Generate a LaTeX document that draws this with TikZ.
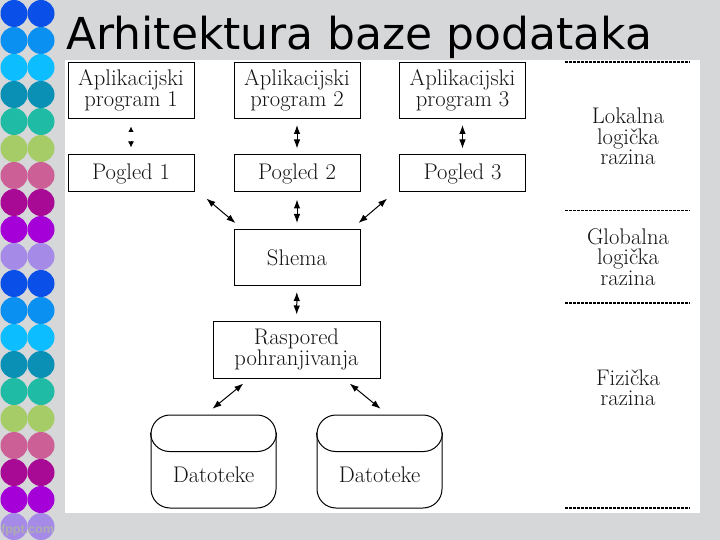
\documentclass[tikz,border=0pt]{standalone}
\usepackage{fontspec}
\newfontfamily\titlefont{DejaVu Sans}
\newfontfamily\markfont{Liberation Sans}
\usetikzlibrary{arrows.meta,calc}
\definecolor{pagebg}{HTML}{D6D7D9}
\definecolor{cA}{HTML}{0A50E8}
\definecolor{cB}{HTML}{0A90F0}
\definecolor{cC}{HTML}{0CBDFF}
\definecolor{cD}{HTML}{0A90B5}
\definecolor{cE}{HTML}{1FBBA5}
\definecolor{cF}{HTML}{A5CC66}
\definecolor{cG}{HTML}{CC5F95}
\definecolor{cH}{HTML}{A80A95}
\definecolor{cI}{HTML}{A500D8}
\definecolor{cJ}{HTML}{A58AE8}
\tikzset{
  x=1pt,y=-1pt,
  dot/.style={circle,inner sep=0pt,minimum size=27pt,fill=#1},
  boxnode/.style={draw=black,line width=1pt,inner sep=0pt,minimum width=#1,align=center,font=\fontsize{22.6}{21}\selectfont,text=black!92},
  drum/.style={draw=black,line width=1pt,inner sep=0pt,minimum width=125pt,minimum height=93pt,rounded corners=19pt},
  lab/.style={inner sep=0pt,align=center,font=\fontsize{22.6}{20.5}\selectfont,text=black!92},
  biarrow/.style={{Latex[length=9pt,width=6.5pt]}-{Latex[length=9pt,width=6.5pt]},line width=1pt},
  tipsonly/.style={{Latex[length=6pt,width=6pt]}-{Latex[length=6pt,width=6pt]},line width=0.9pt},
  level/.style={line width=#1,dash pattern=on 3pt off 1pt,black}
}
\begin{document}
\begin{tikzpicture}
\useasboundingbox (0,0) rectangle (720,540);
\fill[pagebg] (0,0) rectangle (720,540);
\fill[white] (65,60) rectangle (700,513);
% dots
\foreach \col [count=\i from 0] in {cA,cB,cC,cD,cE,cF,cG,cH,cI,cJ,cA,cB,cC,cD,cE,cF,cG,cH,cI,cJ}{
  \pgfmathsetmacro{\yy}{13.5+27*\i}
  \node[dot=\col] (l\i) at (14,\yy) {};
  \node[dot=\col] (r\i) at (41,\yy) {};
}
\node[inner sep=0pt,text=white!68!black,font=\markfont\bfseries\fontsize{12.5}{12.5}\selectfont] (wm) at (27.5,530) {fppt.com};
\node[anchor=base west,inner sep=0pt,font=\titlefont\fontsize{44}{44}\selectfont,text=black] (title) at (66,50) {Arhitektura baze podataka};
% boxes
\node[boxnode=126pt,minimum height=56pt] (a1) at (131,90.5) {Aplikacijski\\program 1};
\node[boxnode=126pt,minimum height=56pt] (a2) at (297,90.5) {Aplikacijski\\program 2};
\node[boxnode=126pt,minimum height=56pt] (a3) at (462.5,90.5) {Aplikacijski\\program 3};
\node[boxnode=126pt,minimum height=37pt] (p1) at (131,173.5) {Pogled 1};
\node[boxnode=126pt,minimum height=37pt] (p2) at (297,173.5) {Pogled 2};
\node[boxnode=126pt,minimum height=37pt] (p3) at (462.5,173.5) {Pogled 3};
\node[boxnode=126pt,minimum height=56pt] (sh) at (297,257.5) {Shema};
\node[boxnode=167pt,minimum height=57pt] (ra) at (296.5,349.5) {Raspored\\pohranjivanja};
\node[drum] (c1) at (213.5,461.5) {};
\node[drum] (c2) at (379.5,461.5) {};
\node[lab] (d1) at (213.5,474.5) {Datoteke};
\node[lab] (d2) at (379.5,474.5) {Datoteke};
\draw[line width=1pt,rounded corners=19pt] ([yshift=-18pt]c1.north west) -- ([yshift=-37pt]c1.north west) -- ([yshift=-37pt]c1.north east) -- ([yshift=-18pt]c1.north east);
\draw[line width=1pt,rounded corners=19pt] ([yshift=-18pt]c2.north west) -- ([yshift=-37pt]c2.north west) -- ([yshift=-37pt]c2.north east) -- ([yshift=-18pt]c2.north east);
% level labels
\node[lab] (t1) at (628,136.5) {Lokalna\\logička\\razina};
\node[lab] (t2) at (628,257) {Globalna\\logička\\razina};
\node[lab] (t3) at (628,387.5) {Fizička\\razina};
% level rules
\coordinate (s1) at (565,62); \coordinate (e1) at (690,62);
\coordinate (s2) at (565,210.5); \coordinate (e2) at (690,210.5);
\coordinate (s3) at (565,303); \coordinate (e3) at (690,303);
\coordinate (s4) at (565,508); \coordinate (e4) at (690,508);
\draw[level=1.3pt] (s1) -- (e1);
\draw[level=0.8pt] (s2) -- (e2);
\draw[level=1.3pt] (s3) -- (e3);
\draw[level=1.3pt] (s4) -- (e4);
% connectors
\draw[tipsonly,shorten >=7pt,shorten <=7.5pt] (a1) -- (p1);
\fill[white] (125,132) rectangle (137,141.5);
\draw[biarrow,shorten >=6pt,shorten <=6pt] (a2) -- (p2);
\draw[biarrow,shorten >=6pt,shorten <=6pt] (a3) -- (p3);
\draw[biarrow,shorten >=6pt,shorten <=7pt] (p2) -- (sh);
\draw[biarrow,shorten >=6pt,shorten <=6pt] (sh) -- (ra);
\draw[biarrow,shorten <=15.6pt,shorten >=9.2pt] ([yshift=4pt]p1.south east) -- ([xshift=9pt]sh.north west);
\draw[biarrow,shorten <=15.6pt,shorten >=9.2pt] ([yshift=4pt]p3.south west) -- ([xshift=-9pt]sh.north east);
\draw[biarrow,shorten <=8pt,shorten >=9pt] ([xshift=37pt]ra.south west) -- ([xshift=-8pt]c1.north);
\draw[biarrow,shorten <=8pt,shorten >=9pt] ([xshift=-37pt]ra.south east) -- ([xshift=8pt]c2.north);
\end{tikzpicture}
\end{document}
